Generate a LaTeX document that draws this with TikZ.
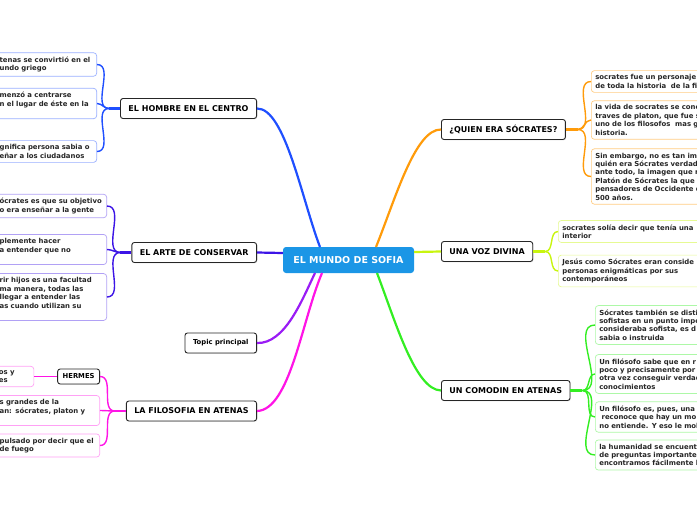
\documentclass[tikz,border=0pt]{standalone}
\usepackage{fontspec}
\setmainfont{DejaVu Sans}
\usepackage{xcolor}
\usetikzlibrary{positioning, shadows}
\definecolor{coreblue}{HTML}{1B96E6}
\definecolor{hombrec}{HTML}{1F4FFF}
\definecolor{artec}{HTML}{3C14E6}
\definecolor{topicc}{HTML}{9A1CF5}
\definecolor{filoc}{HTML}{FF14E6}
\definecolor{quienc}{HTML}{FF9B0A}
\definecolor{vozc}{HTML}{C8F50F}
\definecolor{comoc}{HTML}{33EE22}
\tikzstyle{core} = [rectangle, rounded corners=3pt, fill=coreblue, text=white, minimum width=131pt, minimum height=26pt, font=\fontsize{9.5}{11}\bfseries]
\tikzstyle{idea} = [rectangle, rounded corners=2.5pt, draw=black!85, line width=0.9pt, fill=white, inner xsep=8pt, minimum height=20pt, font=\fontsize{8}{9.6}\bfseries, drop shadow={opacity=0.2, shadow xshift=0.8pt, shadow yshift=-0.8pt}]
\tikzstyle{subidea} = [idea, inner xsep=5pt, minimum height=15pt, font=\fontsize{6.8}{8}\bfseries]
\tikzstyle{leaf} = [rectangle, rounded corners=3pt, fill=white, line width=0.7pt, inner xsep=4pt, inner ysep=4pt, align=left, text=black!85, font=\fontsize{6.9}{8.4}\bfseries]
\tikzstyle{leafL} = [leaf, anchor=east]
\tikzstyle{leafR} = [leaf, anchor=west, text width=150pt]
\tikzstyle{branch} = [line width=2.2pt]
\tikzstyle{stub} = [line width=2.6pt]
\tikzstyle{twig} = [line width=1.4pt]

\begin{document}
\begin{tikzpicture}[x=1pt, y=-1pt]
	\useasboundingbox (0,0) rectangle (697,520);
	% centre
	\node (mundo)[core] at (348.5,260) {EL MUNDO DE SOFIA};
	% main ideas
	\node (hombre)[idea, anchor=east] at (257,108.5) {EL HOMBRE EN EL CENTRO};
	\node (arte)[idea, anchor=east] at (257,252.5) {EL ARTE DE CONSERVAR};
	\node (topic)[idea, anchor=east, font=\fontsize{6.8}{8}\bfseries] at (257,343) {Topic principal};
	\node (filosofia)[idea, anchor=east] at (257,411) {LA FILOSOFIA EN ATENAS};
	\node (hermes)[subidea, anchor=east] at (100,376.5) {HERMES};
	\node (quien)[idea, anchor=west] at (441,129.5) {¿QUIEN ERA SÓCRATES?};
	\node (voz)[idea, anchor=west] at (441,251.5) {UNA VOZ DIVINA};
	\node (comodin)[idea, anchor=west] at (441,390.5) {UN COMODIN EN ATENAS};
	% leaves, left
	\node (h1)[leafL, draw=hombrec!45, text width=93pt] at (97,64.5) {tenas se convirtió en el\\undo griego};
	\node (h2)[leafL, draw=hombrec!45, text width=93pt] at (97,103.5) {menzó a centrarse\\n el lugar de éste en la\\~};
	\node (h3)[leafL, draw=hombrec!45, text width=93pt] at (97,151.5) {gnifica persona sabia o\\eñar a los ciudadanos};
	\node (a1)[leafL, draw=artec!40, text width=103pt] at (107,206) {ócrates es que su objetivo\\o era enseñar a la gente};
	\node (a2)[leafL, draw=artec!40, text width=103pt] at (107,249.5) {plemente hacer\\a entender que no\\~};
	\node (a3)[leafL, draw=artec!40, text width=103pt] at (107,297) {rir hijos es una facultad\\ma manera, todas las\\llegar a entender las\\as cuando utilizan su\\~};
	\node (e1)[leafL, draw=filoc!40, text width=31pt, left=23pt of hermes] {os y\\es};
	\node (f1)[leafL, draw=filoc!40, text width=96pt] at (100,410.5) {s grandes de la\\an: sócrates, platon y\\~};
	\node (f2)[leafL, draw=filoc!40, text width=96pt] at (100,445.5) {pulsado por decir que el\\de fuego};
	% leaves, right
	\node (q1)[leafR, draw=quienc!50] at (591,81.5) {socrates fue un personaje\\de toda la historia~ de la fi};
	\node (q2)[leafR, draw=quienc!50] at (591,120) {la vida de socrates se cono\\traves de platon, que fue s\\uno de los filosofos~ mas g\\historia.};
	\node (q3)[leafR, draw=quienc!50] at (591,176.5) {Sin embargo, no es tan im\\quién era Sócrates verdad\\ante todo, la imagen que n\\Platón de Sócrates la que\\pensadores de Occidente d\\500 años.};
	\node (v1)[leafR, draw=vozc!45] at (558,231.5) {socrates solía decir que tenía una\\interior};
	\node (v2)[leafR, draw=vozc!45] at (558,271) {Jesús como Sócrates eran conside\\personas enigmáticas por sus\\contemporáneos};
	\node (c1)[leafR, draw=comoc!40] at (595,325) {Sócrates también se disti\\sofistas en un punto impo\\consideraba sofista, es d\\sabia o instruida};
	\node (c2)[leafR, draw=comoc!40] at (595,374) {Un filósofo sabe que en r\\poco y precisamente por\\otra vez conseguir verdad\\conocimientos};
	\node (c3)[leafR, draw=comoc!40] at (595,417) {Un filósofo es, pues, una\\~reconoce que hay un mo\\no entiende. Y eso le mol};
	\node (c4)[leafR, draw=comoc!40] at (595,455) {la humanidad se encuent\\de preguntas importante\\encontramos fácilmente l};
	% branches from the centre
	\draw [branch, hombrec] (hombre.east) .. controls (285,108) and (302,200) .. (320,247);
	\draw [branch, artec] (arte.east) -- ([yshift=7pt]mundo.west);
	\draw [branch, topicc] (topic.east) .. controls (285,344) and (302,300) .. (315,273);
	\draw [branch, filoc] (filosofia.east) .. controls (290,410) and (302,320) .. (322,273);
	\draw [branch, quienc] (quien.west) .. controls (415,129) and (395,200) .. (376,247);
	\draw [branch, vozc] (voz.west) -- ([yshift=8pt]mundo.east);
	\draw [branch, comoc] (comodin.west) .. controls (415,390) and (395,320) .. (377,273);
	% twigs to the leaves
	\coordinate (hombreJ) at ([xshift=-11pt]hombre.west);
	\coordinate (arteJ) at ([xshift=-11pt]arte.west);
	\coordinate (filoJ) at ([xshift=-11pt]filosofia.west);
	\coordinate (quienJ) at ([xshift=12pt]quien.east);
	\coordinate (vozJ) at ([xshift=12pt]voz.east);
	\coordinate (comoJ) at ([xshift=12pt]comodin.east);
	\draw [stub, hombrec] (hombre.west) -- (hombreJ);
	\draw [stub, artec] (arte.west) -- (arteJ);
	\draw [stub, filoc] (filosofia.west) -- (filoJ);
	\draw [stub, quienc] (quien.east) -- (quienJ);
	\draw [stub, vozc] (voz.east) -- (vozJ);
	\draw [stub, comoc] (comodin.east) -- (comoJ);
	\foreach \n in {h1,h2,h3}
		\draw [twig, hombrec] (hombreJ) to[out=180, in=0] (\n.east);
	\foreach \n in {a1,a2,a3}
		\draw [twig, artec] (arteJ) to[out=180, in=0] (\n.east);
	\foreach \n in {hermes,f1,f2}
		\draw [twig, filoc] (filoJ) to[out=180, in=0] (\n.east);
	\draw [twig, filoc] (hermes.west) -- (e1.east);
	\foreach \n in {q1,q2,q3}
		\draw [twig, quienc] (quienJ) to[out=0, in=180] (\n.west);
	\foreach \n in {v1,v2}
		\draw [twig, vozc] (vozJ) to[out=0, in=180] (\n.west);
	\foreach \n in {c1,c2,c3,c4}
		\draw [twig, comoc] (comoJ) to[out=0, in=180] (\n.west);
\end{tikzpicture}
\end{document}
